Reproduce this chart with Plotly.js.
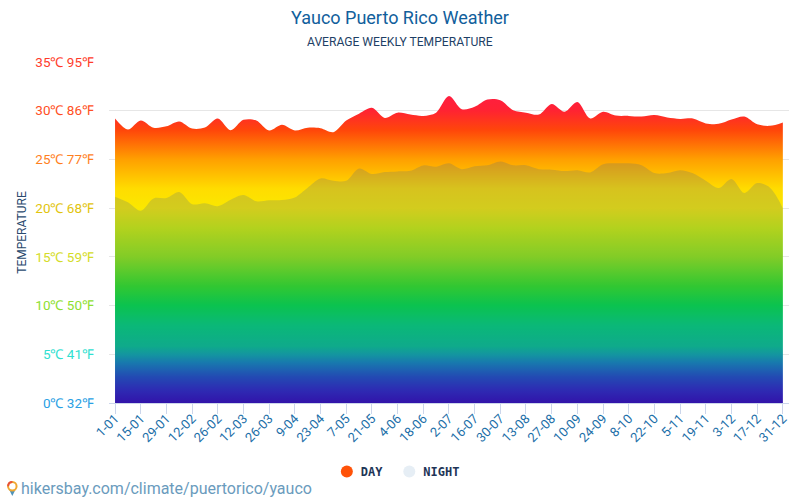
<!DOCTYPE html>
<html><head><meta charset="utf-8">
<script src="https://cdn.plot.ly/plotly-3.0.1.min.js"></script>
<style>html,body{margin:0;padding:0;background:#fff}#c{width:800px;height:500px}</style>
</head><body><div id="c"></div>
<script>
const weeks = ["1-01","8-01","15-01","22-01","29-01","5-02","12-02","19-02","26-02","5-03","12-03","19-03","26-03","2-04","9-04","16-04","23-04","30-04","7-05","14-05","21-05","28-05","4-06","11-06","18-06","25-06","2-07","9-07","16-07","23-07","30-07","6-08","13-08","20-08","27-08","3-09","10-09","17-09","24-09","1-10","8-10","15-10","22-10","29-10","5-11","12-11","19-11","26-11","3-12","10-12","17-12","24-12","31-12"];
const dayTemps = [29.2,28.07,29.0,28.25,28.4,28.9,28.17,28.27,29.2,28.0,29.06,29.0,27.97,28.55,27.97,28.25,28.2,27.8,29.0,29.7,30.3,29.26,29.8,29.6,29.47,29.8,31.5,30.15,30.4,31.15,31.08,30.05,29.8,29.6,30.7,29.9,30.9,29.2,29.9,29.5,29.47,29.4,29.55,29.3,29.16,29.2,28.7,28.65,29.1,29.4,28.6,28.45,28.8];
const nightTemps = [21.17,20.6,19.73,21.0,21.03,21.65,20.4,20.5,20.2,20.86,21.34,20.7,20.8,20.83,21.1,22.1,23.05,22.8,22.8,24.07,23.5,23.7,23.77,23.83,24.38,24.25,24.6,24.0,24.3,24.4,24.8,24.4,24.4,24.0,23.95,23.8,23.9,23.67,24.5,24.6,24.6,24.4,23.6,23.6,23.9,23.57,22.8,22.06,23.0,21.55,22.57,22.1,20.0];
const xTicks = weeks.filter((w,i)=>i%2===0);
const yTickVals = [0,5,10,15,20,25,30,35];
const yTickText = ["0℃ 32℉","5℃ 41℉","10℃ 50℉","15℃ 59℉","20℃ 68℉","25℃ 77℉","30℃ 86℉","35℃ 95℉"];
const yTickColors = ["#2a9fe4","#2fe0d0","#8ee030","#d4dc28","#e2c40e","#ff7f1e","#ff4f24","#ff3b2a"];
const gradStops = [[0,"rgb(49,1,175)"],[1.4,"rgb(43,32,187)"],[2.7,"rgb(30,70,187)"],[4.1,"rgb(17,126,181)"],[5,"rgb(11,164,162)"],[5.8,"rgb(5,189,137)"],[8,"rgb(0,207,112)"],[10,"rgb(0,220,62)"],[12,"rgb(49,226,25)"],[15,"rgb(149,232,12)"],[18,"rgb(211,239,0)"],[20,"rgb(250,232,0)"],[22,"rgb(255,220,0)"],[25,"rgb(255,160,0)"],[28,"rgb(255,70,10)"],[30,"rgb(255,35,50)"],[32,"rgb(255,28,68)"]];
const dayScale = gradStops.map(s=>[s[0]/32,s[1]]);
const pxX = p => (p-109)/680.5, pxY = p => (403.3-p)/341.6;
const data = [
 {x:weeks,y:dayTemps,type:"scatter",mode:"lines",line:{shape:"spline",smoothing:0.9,width:0,color:"#ff4f10"},fill:"tozeroy",
  fillgradient:{type:"vertical",start:0,stop:32,colorscale:dayScale},showlegend:false,hoverinfo:"skip"},
 {x:weeks,y:nightTemps,type:"scatter",mode:"lines",line:{shape:"spline",smoothing:0.9,width:0,color:"#c8c8c8"},fill:"tozeroy",
  fillcolor:"rgba(55,95,150,0.2)",showlegend:false,hoverinfo:"skip"},
 {x:[null],y:[null],name:"DAY",type:"scatter",mode:"markers",marker:{size:12,color:"#ff5208"}},
 {x:[null],y:[null],name:"NIGHT",type:"scatter",mode:"markers",marker:{size:12,color:"#e6eef5"}}
];
const layout = {
 width:800,height:500,margin:{l:109,r:10.5,t:61.7,b:96.7,pad:0},paper_bgcolor:"#fff",plot_bgcolor:"#fff",
 font:{family:"Roboto, sans-serif"},
 title:{text:"Yauco Puerto Rico Weather",font:{size:18,color:"#11609c",family:"Roboto"},x:0.5,xanchor:"center",y:0.965,yanchor:"middle"},
 xaxis:{type:"category",categoryorder:"array",categoryarray:weeks,range:[-0.47,52.48],tickmode:"array",tickvals:xTicks,ticktext:xTicks,tickangle:-45,ticklabelstandoff:-8,
  tickfont:{size:13,color:"#1b6ea8",family:"Roboto"},ticks:"outside",ticklen:10,tickcolor:"#ccd6eb",tickwidth:1,showline:true,linecolor:"#ccd6eb",linewidth:1,showgrid:false,fixedrange:true},
 yaxis:{range:[0,35],tickmode:"array",tickvals:yTickVals,ticktext:yTickText.map((t,i)=>`<span style="color:${yTickColors[i]}">${t}</span>`),
  tickfont:{size:13.5,family:"Roboto"},ticks:"",showgrid:true,gridcolor:"#e6e6e6",gridwidth:1,zeroline:false,showline:false,automargin:false,ticklabelstandoff:14,
  title:{text:"TEMPERATURE",font:{size:12,color:"#2a4a6e",family:"Roboto"},standoff:9},fixedrange:true},
 legend:{orientation:"h",x:pxX(327),xanchor:"left",y:pxY(472),yanchor:"middle",font:{family:"DejaVu Sans Mono",size:12,color:"#1e3557",weight:"bold"},bgcolor:"rgba(0,0,0,0)"},
 annotations:[
  {text:"AVERAGE WEEKLY TEMPERATURE",xref:"paper",yref:"paper",x:pxX(400),xanchor:"center",y:pxY(42),yanchor:"middle",showarrow:false,font:{size:12.1,color:"#1e3f66",family:"Roboto"}},
  {text:"hikersbay.com/climate/puertorico/yauco",xref:"paper",yref:"paper",x:pxX(19),xanchor:"left",y:pxY(489),yanchor:"middle",showarrow:false,font:{size:16,color:"#6a9bbd",family:"Roboto"}}
 ],
 shapes:[
  {type:"path",xref:"paper",yref:"paper",path:`M ${pxX(8.8)} ${pxY(489.5)} L ${pxX(12.25)} ${pxY(496.5)} L ${pxX(15.7)} ${pxY(489.5)} Z`,line:{width:0},fillcolor:"#4f93b8"},
  {type:"circle",xref:"paper",yref:"paper",x0:pxX(8),x1:pxX(16.5),y0:pxY(491),y1:pxY(482.5),line:{color:"#f0a830",width:2},fillcolor:"#fff"},
  {type:"path",xref:"paper",yref:"paper",path:`M ${pxX(8)} ${pxY(486.7)} Q ${pxX(8.3)} ${pxY(482.6)} ${pxX(12.25)} ${pxY(482.5)}`,line:{color:"#e8503a",width:2}}
 ]
};
Plotly.newPlot("c",data,layout,{displayModeBar:false,staticPlot:true}).then(()=>{
 document.querySelectorAll("#c .legendtext").forEach(t=>t.setAttribute("x",34));
 const tr=document.querySelectorAll("#c .legend .traces");
 if(tr[1]){const m=/translate\(([-\d.]+),\s*([-\d.]+)\)/.exec(tr[1].getAttribute("transform"));if(m)tr[1].setAttribute("transform",`translate(${+m[1]-5},${m[2]})`);}
 const yt=document.querySelector("#c .ytitle");
 if(yt){const cur=yt.getAttribute("transform")||"";yt.setAttribute("transform",`translate(3,0) ${cur}`);}
});
</script></body></html>
